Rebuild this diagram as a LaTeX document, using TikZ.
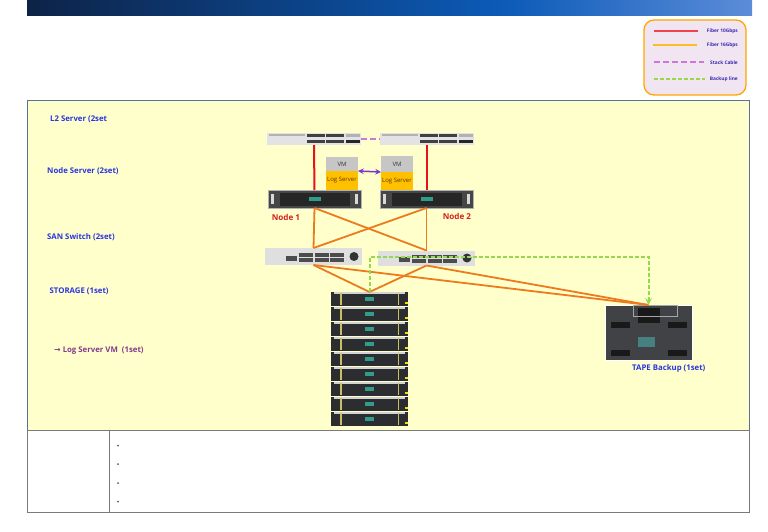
\documentclass[tikz,border=0pt]{standalone}
\usepackage{fontspec}
\setmainfont{Open Sans}
\usepackage{tikz}
\usetikzlibrary{arrows,shapes,calc,positioning}
\definecolor{barA}{HTML}{0D2347}
\definecolor{barB}{HTML}{0C5BB8}
\definecolor{barC}{HTML}{5C8CD8}
\definecolor{panel}{HTML}{FFFFCC}
\definecolor{panelline}{HTML}{5A7299}
\definecolor{tableline}{HTML}{7A7A7A}
\definecolor{labelblue}{HTML}{2A35E0}
\definecolor{labelred}{HTML}{D42020}
\definecolor{labelviolet}{HTML}{843C8C}
\definecolor{keyblue}{HTML}{3A2AB0}
\definecolor{linkred}{HTML}{E8101A}
\definecolor{keyred}{HTML}{F5404F}
\definecolor{keyyellow}{HTML}{FFBE20}
\definecolor{logyellow}{HTML}{FFC000}
\definecolor{arrowviolet}{HTML}{7B35C8}
\definecolor{fiberorange}{HTML}{EE7A1E}
\definecolor{stackpink}{HTML}{CC77DD}
\definecolor{backupgreen}{HTML}{98D850}
\definecolor{rackdark}{HTML}{2B2D30}
\definecolor{tagteal}{HTML}{2E9E8A}
\pgfdeclarehorizontalshading{barshade}{100bp}{color(0bp)=(barA); color(25bp)=(barA); color(58bp)=(barB); color(75bp)=(barC); color(100bp)=(barC)}
\tikzstyle{tag}   =[font=\fontsize{7.8pt}{9pt}\selectfont\bfseries, text=labelblue,
                    anchor=west, inner sep=0pt]
\tikzstyle{nodetag}=[tag, anchor=center, text=labelred, font=\fontsize{8.1pt}{9pt}\selectfont\bfseries]
\tikzstyle{keytag}=[tag, anchor=east, font=\fontsize{4.8pt}{5pt}\selectfont\bfseries, text=keyblue]
\tikzstyle{device}=[inner sep=0pt, outer sep=0pt]
\tikzstyle{l2sw}  =[device, fill=gray!22, minimum width=94pt, minimum height=12pt]
\tikzstyle{sansw} =[device, fill=gray!25, minimum width=97pt, minimum height=15pt]
\tikzstyle{server}=[device, fill=gray!55!black, draw=gray!60, minimum width=93pt, minimum height=18pt]
\tikzstyle{unit}  =[device, fill=rackdark, minimum width=77pt, minimum height=14pt]
\tikzstyle{vmbox} =[device, fill=gray!45, minimum width=32pt, font=\fontsize{6pt}{6pt}\selectfont, text=gray!40!black]
\tikzstyle{logbox}=[vmbox, fill=logyellow, text=black!60!orange]
\tikzstyle{fiberten}=[line width=2pt, linkred]
\tikzstyle{fibersix}=[line width=1.8pt, fiberorange]
\tikzstyle{stacklink}=[line width=2pt, stackpink, dash pattern=on 6pt off 3pt]
\tikzstyle{backuplink}=[line width=2pt, backupgreen, dash pattern=on 4pt off 2pt]

\begin{document}
\begin{tikzpicture}[x=1pt, y=-1pt]
    \useasboundingbox (0,0) rectangle (768,532);
    \path[shading=barshade] (27,0) rectangle (752,16);

    % legend
    \node (key) [device, draw=orange!70!yellow, fill=violet!10!white, line width=1.3pt, rounded corners=10pt,
                 minimum width=102pt, minimum height=75pt] at (695,57.5) {};
    \foreach \i/\xa/\xb/\y/\txt in {1/654/698/31/Fiber 10Gbps, 2/653/697/45/Fiber 16Gbps,
                                    3/654/704/62/Stack Cable, 4/654/705/79/Backup line}{
        \coordinate (keya\i) at (\xa,\y);
        \coordinate (keyb\i) at (\xb,\y);
        \node (keytxt\i) [keytag] at (738,\y+0.5) {\txt};
    }
    \draw[line width=2pt, keyred] (keya1) -- (keyb1);
    \draw[line width=2pt, keyyellow] (keya2) -- (keyb2);
    \draw[stacklink, line width=1.6pt] (keya3) -- (keyb3);
    \draw[backuplink, line width=1.6pt] (keya4) -- (keyb4);

    % frames
    \node (panel) [device, fill=panel, draw=panelline, line width=1pt, minimum width=722pt, minimum height=329pt] at (388,265.5) {};
    \node (notes) [device, draw=tableline, line width=1pt, minimum width=722pt, minimum height=82pt] at (388,471) {};
    \draw[tableline, line width=1pt] (notes.north west -| 109,0) -- (notes.south west -| 109,0);
    \foreach \y in {445.5,464,483,501.5} \fill[gray!70!black] (118,\y) circle (1pt);

    % left labels
    \node (l2txt)   [tag] at (50,119.5)  {L2 Server (2set};
    \node (nodetxt) [tag] at (47,171){Node Server (2set)};
    \node (santxt)  [tag] at (47,237){SAN Switch (2set)};
    \node (stortxt) [tag] at (49.5,291){STORAGE (1set)};
    \node (vmtxt)   [tag, text=labelviolet] at (54,351) {{\fontspec{DejaVu Sans}\char"2192}\ Log Server VM\ \ (1set)};

    % L2 switches
    \node (sw1) [l2sw] at (314,139) {};
    \node (sw2) [l2sw] at (426.5,139) {};
    \foreach \n in {sw1,sw2}{
        \fill[gray!60] ($(\n.west)+(2,-4.5)$) rectangle +(36,1.5);
        \foreach \d in {40,59}{
            \fill[gray!50!black] ($(\n.west)+(\d,-5)$) rectangle +(18,3.5);
            \fill[gray!50!black] ($(\n.west)+(\d,1)$) rectangle +(18,3.5);
        }
        \fill[gray!60] ($(\n.west)+(79,-5)$) rectangle +(14,3);
        \fill[black!85] ($(\n.west)+(79,1)$) rectangle +(14,3.5);
    }
    \draw[stacklink] (sw1) -- (sw2);

    % VM
    \node (vm1)  [vmbox, minimum height=14pt] at (342,164) {VM};
    \node (log1) [logbox, minimum height=19pt] at (342,180.5) {Log Server};
    \node (vm2)  [vmbox, minimum height=16pt] at (397,164) {VM};
    \node (log2) [logbox, minimum height=18pt] at (397,181) {Log Server};
    \draw[<->, >=stealth, line width=1.5pt, arrowviolet] (vm1.south east) -- (vm2.south west);

    % node servers
    \node (node1) [server] at (314.5,199) {};
    \node (node2) [server] at (426.5,199) {};
    \foreach \n in {node1,node2}{
        \fill[black!85] ($(\n.west)+(12,-6.5)$) rectangle +(70,13);
        \node (tag\n) [device, fill=tagteal, minimum width=12pt, minimum height=4pt] at (\n) {};
        \fill[gray!30] ($(\n.west)+(3,-5)$) rectangle +(3,10);
        \fill[gray!30] ($(\n.east)+(-6,-5)$) rectangle +(3,10);
    }
    \draw[fiberten] (sw1) -- (node1);
    \draw[fiberten] (sw2) -- (node2);
    \node (n1txt) [nodetag] at (286,217.5) {Node 1};
    \node (n2txt) [nodetag] at (457,216.5) {Node 2};

    % SAN switches
    \node (san1) [sansw, minimum height=17pt] at (313.5,256.5) {};
    \node (san2) [sansw] at (426.5,258) {};
    \foreach \n in {san1,san2}{
        \foreach \d in {34,50,65}{
            \fill[gray!60!black] ($(\n.west)+(\d,-3.5)$) rectangle +(14,3.5);
            \fill[gray!60!black] ($(\n.west)+(\d,1)$) rectangle +(14,4);
        }
        \fill[gray!60!black] ($(\n.west)+(21,-1)$) rectangle +(11,5);
        \fill[black!80] ($(\n.west)+(89,0)$) circle (4.5pt);
    }

    % storage
    \foreach \i in {0,...,8}{
        \node (st\i) [unit] at (369.5,299+15*\i) {};
        \fill[gray!35] ($(st\i.north west)+(3,0)$) rectangle +(71,1.6);
        \fill[gray!50!yellow] ($(st\i.west)+(9,-6)$) rectangle +(1.5,12);
        \fill[gray!50!yellow] ($(st\i.east)+(-10.5,-6)$) rectangle +(1.5,12);
        \fill[yellow!80!orange] ($(st\i.east)+(-3,3)$) rectangle +(2.5,2);
        \node (tg\i) [device, fill=tagteal, minimum width=9pt, minimum height=4pt] at (st\i) {};
    }

    % tape library
    \node (tape) [device, fill=rackdark!90!white, draw=white, minimum width=87pt, minimum height=55pt] at (648.5,332.5) {};
    \fill[black!90] ($(tape.north)+(-11,3)$) rectangle +(22,15);
    \draw[gray!70] ($(tape.north west)+(28,0.5)$) rectangle ++(44,11);
    \foreach \dx in {6,63}{
        \fill[black!90] ($(tape.north west)+(\dx,17)$) rectangle +(19,6);
        \fill[black!90] ($(tape.north west)+(\dx,45)$) rectangle +(19,6);
    }
    \node (screen) [device, fill=teal!45!gray, minimum width=17pt, minimum height=10pt] at (646.5,342) {};
    \node (tapetxt) [tag] at (632,368.5) {TAPE Backup (1set)};

    % fiber
    \draw[fibersix] (node1.south) -- (san1.north);
    \draw[fibersix] (node1.south) -- (san2.north);
    \draw[fibersix] (node2.south) -- (san1.north);
    \draw[fibersix] (node2.south) -- (san2.north);
    \draw[fibersix] (san1.south) -- (st0.north);
    \draw[fibersix] (san2.south) -- (st0.north);
    \draw[fibersix] (san1.south) -- (tape.north);
    \draw[fibersix] (san2.south) -- (tape.north);

    % backup
    \coordinate (bk1) at (369.5,257);
    \coordinate (bk2) at (648.5,257);
    \draw[backuplink, ->, >=stealth] (st0.north) -- (bk1) -- (bk2) -- (tape.north);
\end{tikzpicture}
\end{document}
